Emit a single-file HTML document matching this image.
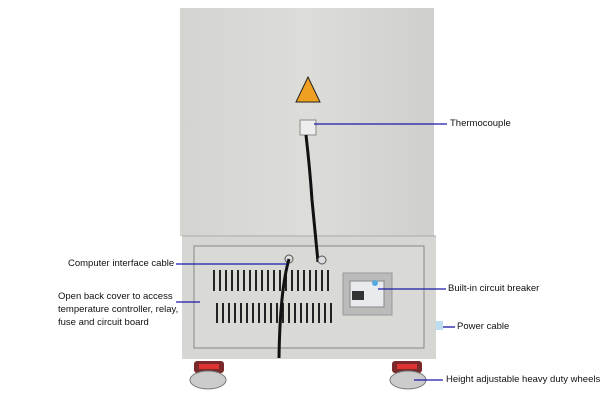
<!DOCTYPE html>
<html><head><style>
body{margin:0;width:615px;height:404px;background:#fff;overflow:hidden;position:relative;font-family:"Liberation Sans",sans-serif}
.t{position:absolute;font-size:9.5px;color:#111;line-height:13px;white-space:nowrap}
</style></head><body>
<svg width="615" height="404" style="position:absolute;left:0;top:0">
<defs>
<linearGradient id="g1" x1="0" x2="1"><stop offset="0" stop-color="#d4d4d0"/><stop offset=".5" stop-color="#dcdcd8"/><stop offset="1" stop-color="#cfcfcb"/></linearGradient>
</defs>
<rect x="180" y="8" width="254" height="228" fill="url(#g1)"/>
<rect x="182" y="236" width="254" height="123" fill="#d6d6d2"/>
<line x1="182" y1="236" x2="436" y2="236" stroke="#aaa"/>
<rect x="194" y="246" width="230" height="102" fill="#d9d9d5" stroke="#888" stroke-width="1"/>
<g fill="#222">
<rect x="213" y="270" width="2" height="21"/><rect x="219" y="270" width="2" height="21"/><rect x="225" y="270" width="2" height="21"/><rect x="231" y="270" width="2" height="21"/><rect x="237" y="270" width="2" height="21"/><rect x="243" y="270" width="2" height="21"/><rect x="249" y="270" width="2" height="21"/><rect x="255" y="270" width="2" height="21"/><rect x="261" y="270" width="2" height="21"/><rect x="267" y="270" width="2" height="21"/><rect x="273" y="270" width="2" height="21"/><rect x="279" y="270" width="2" height="21"/><rect x="285" y="270" width="2" height="21"/><rect x="291" y="270" width="2" height="21"/><rect x="297" y="270" width="2" height="21"/><rect x="303" y="270" width="2" height="21"/><rect x="309" y="270" width="2" height="21"/><rect x="315" y="270" width="2" height="21"/><rect x="321" y="270" width="2" height="21"/><rect x="327" y="270" width="2" height="21"/>
<rect x="216" y="303" width="2" height="20"/><rect x="222" y="303" width="2" height="20"/><rect x="228" y="303" width="2" height="20"/><rect x="234" y="303" width="2" height="20"/><rect x="240" y="303" width="2" height="20"/><rect x="246" y="303" width="2" height="20"/><rect x="252" y="303" width="2" height="20"/><rect x="258" y="303" width="2" height="20"/><rect x="264" y="303" width="2" height="20"/><rect x="270" y="303" width="2" height="20"/><rect x="276" y="303" width="2" height="20"/><rect x="282" y="303" width="2" height="20"/><rect x="288" y="303" width="2" height="20"/><rect x="294" y="303" width="2" height="20"/><rect x="300" y="303" width="2" height="20"/><rect x="306" y="303" width="2" height="20"/><rect x="312" y="303" width="2" height="20"/><rect x="318" y="303" width="2" height="20"/><rect x="324" y="303" width="2" height="20"/><rect x="330" y="303" width="2" height="20"/>
</g>
<rect x="343" y="273" width="49" height="42" fill="#bbb" stroke="#999"/>
<rect x="350" y="281" width="34" height="26" fill="#e8eaee" stroke="#888"/>
<rect x="352" y="291" width="12" height="9" fill="#333"/>
<circle cx="375" cy="283" r="3" fill="#5ad"/>
<polygon points="308,77 296,102 320,102" fill="#f0a020" stroke="#222"/>
<rect x="300" y="120" width="16" height="15" fill="#eee" stroke="#888"/>
<path d="M306 135 Q310 170 312 200 Q316 240 318 262" stroke="#111" stroke-width="3" fill="none"/>
<circle cx="289" cy="259" r="4" fill="#ddd" stroke="#555"/>
<circle cx="322" cy="260" r="4" fill="#ddd" stroke="#555"/>
<path d="M289 259 Q280 290 279 358" stroke="#111" stroke-width="3" fill="none"/>
<rect x="194" y="361" width="30" height="12" rx="3" fill="#7a2a2a"/>
<rect x="199" y="364" width="20" height="5" fill="#d33"/>
<ellipse cx="208" cy="380" rx="18" ry="9" fill="#ccc" stroke="#777"/>
<rect x="392" y="361" width="30" height="12" rx="3" fill="#7a2a2a"/>
<rect x="397" y="364" width="20" height="5" fill="#d33"/>
<ellipse cx="408" cy="380" rx="18" ry="9" fill="#ccc" stroke="#777"/>
<rect x="436" y="321" width="7" height="9" fill="#bde" />
<g stroke="#1a1aa8" stroke-width="1.3">
<line x1="314" y1="124" x2="447" y2="124"/>
<line x1="176" y1="264" x2="287" y2="264"/>
<line x1="176" y1="302" x2="200" y2="302"/>
<line x1="378" y1="289" x2="446" y2="289"/>
<line x1="443" y1="327" x2="455" y2="327"/>
<line x1="414" y1="380" x2="443" y2="380"/>
</g>
</svg>
<div class="t" style="left:450px;top:117px">Thermocouple</div>
<div class="t" style="left:68px;top:257px">Computer interface cable</div>
<div class="t" style="left:58px;top:290px">Open back cover to access<br>temperature controller, relay,<br>fuse and circuit board</div>
<div class="t" style="left:448px;top:282px">Built-in circuit breaker</div>
<div class="t" style="left:457px;top:320px">Power cable</div>
<div class="t" style="left:446px;top:373px">Height adjustable heavy duty wheels</div>
</body></html>
